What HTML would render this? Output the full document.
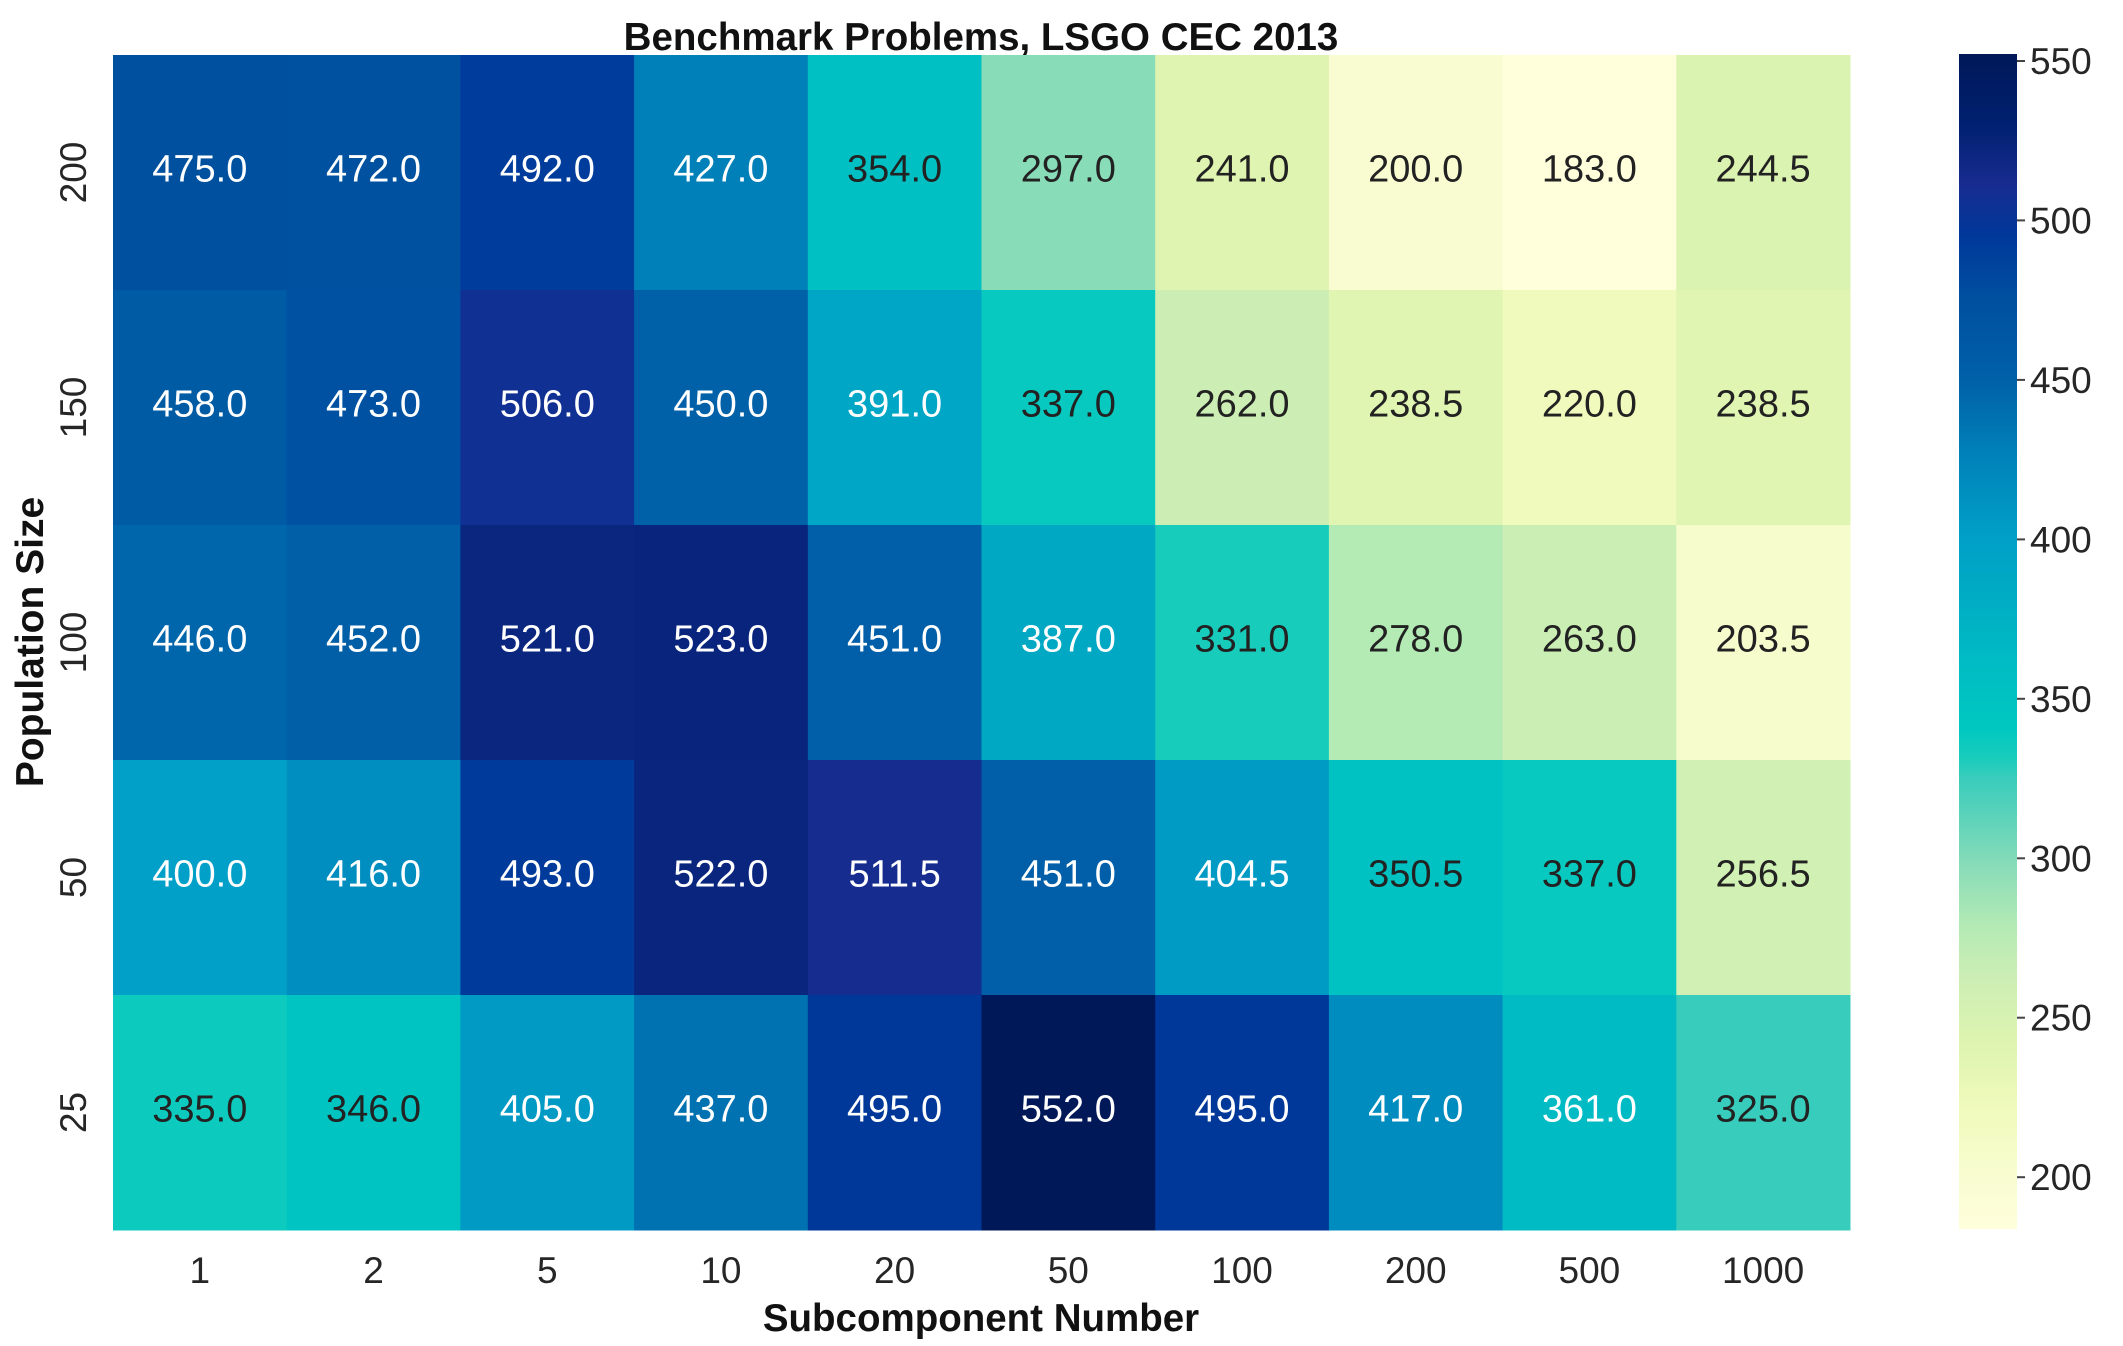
<!DOCTYPE html>
<html><head><meta charset="utf-8"><style>
html,body{margin:0;padding:0;background:#fff;}
svg{display:block;font-family:"Liberation Sans",Arial,sans-serif;}
</style></head><body>
<svg id="s" width="2123" height="1346" xmlns="http://www.w3.org/2000/svg">
<defs><linearGradient id="g" x1="0" y1="1" x2="0" y2="0"></linearGradient></defs>
<text x="981" y="50" font-size="38.5" font-weight="bold" text-anchor="middle" fill="#111">Benchmark Problems, LSGO CEC 2013</text>
<text x="981" y="1331" font-size="38.5" font-weight="bold" text-anchor="middle" fill="#111">Subcomponent Number</text>
<text transform="translate(43,642) rotate(-90)" font-size="39" font-weight="bold" text-anchor="middle" fill="#111">Population Size</text>
<g id="cells"></g>
</svg>
<script>
var stops=[[183,"#ffffdc"],[200,"#f8fcd0"],[220,"#f0fabc"],[241,"#def4b0"],[262,"#cceeb4"],[278,"#b4eab4"],[297,"#88dcb8"],[325,"#38ccbc"],[331,"#18ccbc"],[340,"#00c8c0"],[360,"#00bcc4"],[387,"#00a8c4"],[400,"#00a0c8"],[427,"#0080b8"],[450,"#0060a8"],[475,"#0050a0"],[495,"#00389a"],[511,"#182c90"],[530,"#002070"],[552,"#001858"]];
function h2r(h){return [parseInt(h.substr(1,2),16),parseInt(h.substr(3,2),16),parseInt(h.substr(5,2),16)];}
function col(v){for(var i=0;i<stops.length-1;i++){var a=stops[i],b=stops[i+1];if(v<=b[0]){var t=(v-a[0])/(b[0]-a[0]);if(t<0)t=0;var ca=h2r(a[1]),cb=h2r(b[1]);return "rgb("+ca.map(function(x,k){return Math.round(x+(cb[k]-x)*t);}).join(",")+")";}}return stops[stops.length-1][1];}
var data=[[475,472,492,427,354,297,241,200,183,244.5],[458,473,506,450,391,337,262,238.5,220,238.5],[446,452,521,523,451,387,331,278,263,203.5],[400,416,493,522,511.5,451,404.5,350.5,337,256.5],[335,346,405,437,495,552,495,417,361,325]];
var rows=["200","150","100","50","25"],colsL=["1","2","5","10","20","50","100","200","500","1000"];
var L=113,T=55,W=173.7,H=235,out="";
for(var r=0;r<5;r++){for(var c=0;c<10;c++){var v=data[r][c],x=L+c*W,y=T+r*H;
out+='<rect x="'+x.toFixed(1)+'" y="'+y+'" width="'+(W+0.5).toFixed(1)+'" height="'+(H+0.5)+'" fill="'+col(v)+'"/>';
out+='<text x="'+(x+W/2).toFixed(1)+'" y="'+(y+H/2+9)+'" font-size="38" text-anchor="middle" fill="'+(v>358?"#fff":"#222")+'">'+v.toFixed(1)+'</text>';}
out+='<text transform="translate('+86+','+(T+r*H+H/2)+') rotate(-90)" font-size="37" text-anchor="middle" fill="#262626">'+rows[r]+'</text>';}
for(var c=0;c<10;c++)out+='<text x="'+(L+c*W+W/2).toFixed(1)+'" y="1283" font-size="37" text-anchor="middle" fill="#262626">'+colsL[c]+'</text>';
var g=document.getElementById("g"),gs="";
stops.forEach(function(s){gs+='<stop offset="'+((s[0]-183)/(552-183)).toFixed(4)+'" stop-color="'+s[1]+'"/>';});
g.innerHTML=gs;
out+='<rect x="1959" y="54" width="58" height="1175" fill="url(#g)"/>';
for(var v=200;v<=550;v+=50){var y=61+(550-v)*3.189;out+='<line x1="2017" y1="'+y.toFixed(1)+'" x2="2025" y2="'+y.toFixed(1)+'" stroke="#444" stroke-width="2"/><text x="2030" y="'+(y+13).toFixed(1)+'" font-size="37" fill="#262626">'+v+'</text>';}
document.getElementById("cells").innerHTML=out;
</script>
</body></html>
